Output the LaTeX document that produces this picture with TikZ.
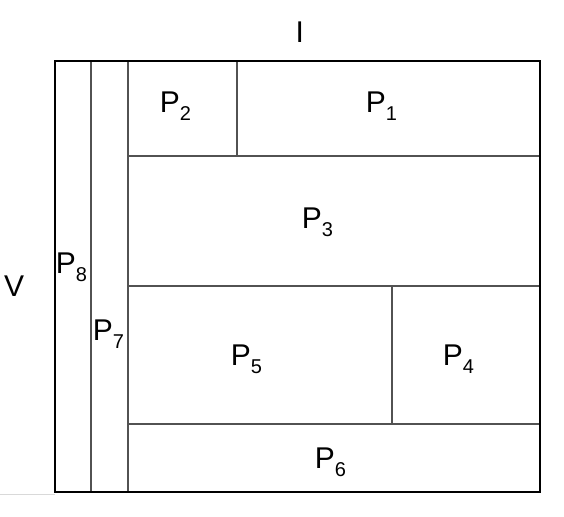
\documentclass[tikz,border=0pt]{standalone}
\usepackage{fontspec}
\setmainfont{Liberation Sans}
\newcommand{\Psub}[1]{P\raisebox{-8pt}{\fontsize{20}{20}\selectfont #1}}
\begin{document}
\begin{tikzpicture}[x=1pt,y=-1pt,
  outer/.style={line width=2pt,black},
  inner/.style={line width=1.5pt,black!68},
  lab/.style={anchor=base west,inner sep=0pt,font=\fontsize{30}{30}\selectfont}]
\useasboundingbox (0,0) rectangle (564,516);
\draw[gray!30,line width=0.8pt] (0,494) -- (55,494);
% inner partitions
\draw[inner] (91,61) -- (91,492);
\draw[inner] (128,61) -- (128,492);
\draw[inner] (128,156) -- (540,156);
\draw[inner] (237,61) -- (237,156);
\draw[inner] (128,286) -- (540,286);
\draw[inner] (392,286) -- (392,424);
\draw[inner] (128,424) -- (540,424);
% outer frame
\draw[outer] (55,61) rectangle (540,492);
% labels
\node[lab] (p1) at (365.7,113) {\Psub{1}};
\node[lab] (p2) at (159.7,113) {\Psub{2}};
\node[lab] (p3) at (301.7,228) {\Psub{3}};
\node[lab] (p4) at (442.7,365) {\Psub{4}};
\node[lab] (p5) at (230.7,365) {\Psub{5}};
\node[lab] (p6) at (314.7,468) {\Psub{6}};
\node[lab] (p7) at (92.7,340) {\Psub{7}};
\node[lab] (p8) at (55.7,273) {\Psub{8}};
\node[lab] (v) at (4,296) {V};
\node[lab] (i) at (295.3,43) {I};
\end{tikzpicture}
\end{document}
